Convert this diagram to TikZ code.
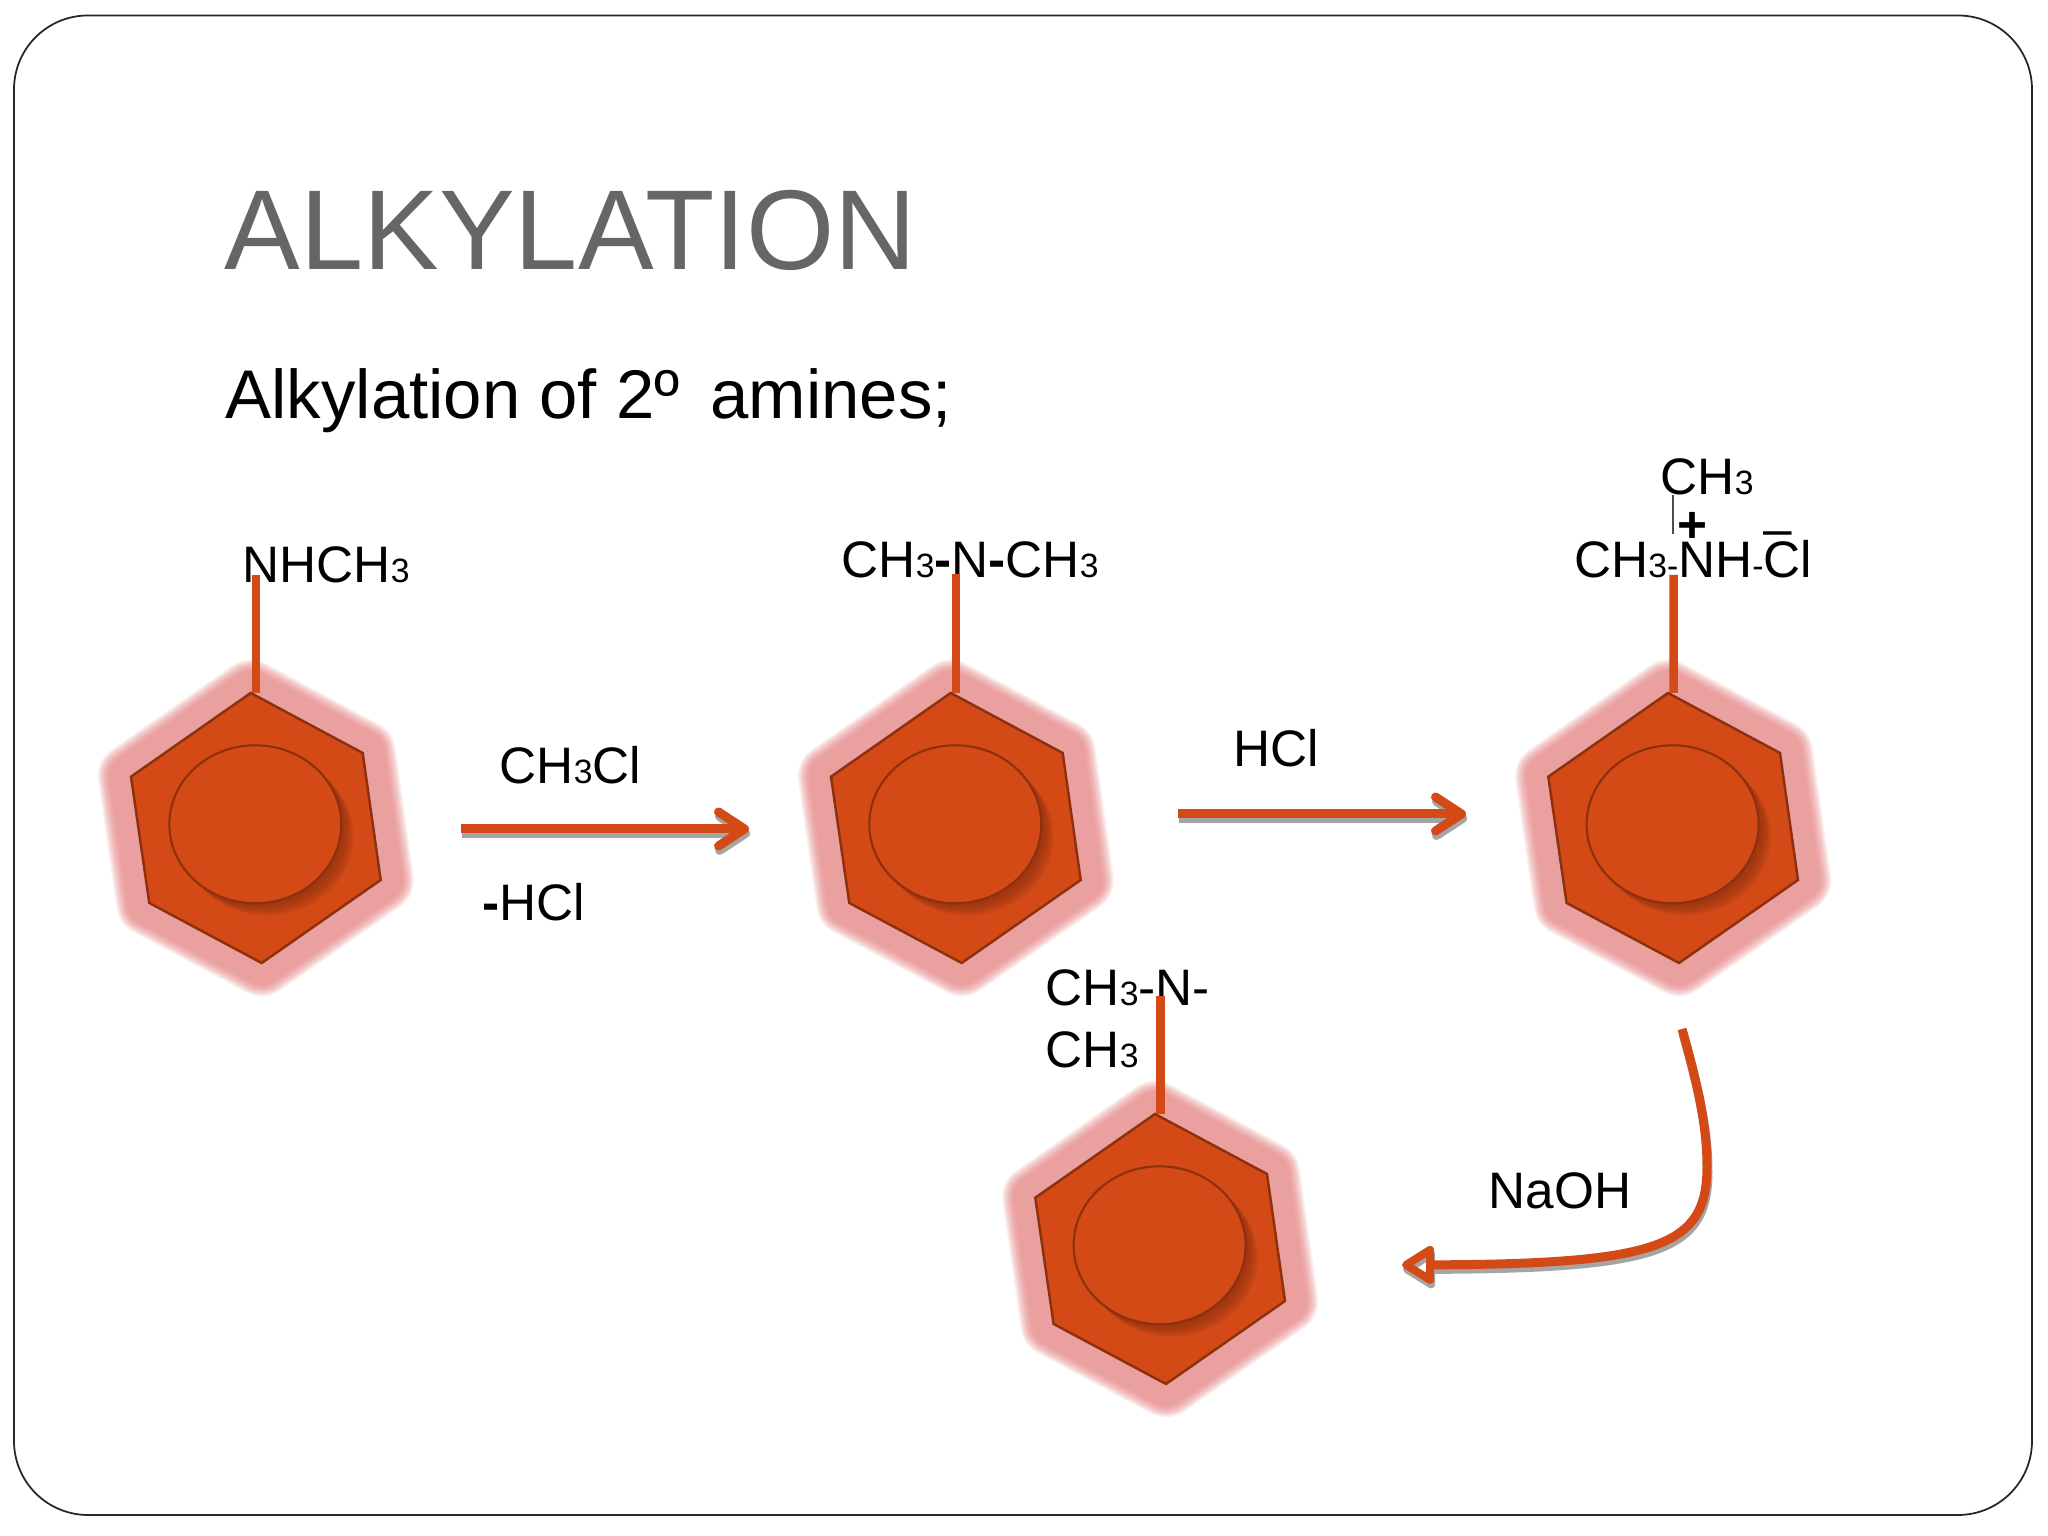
\documentclass[tikz,border=0pt]{standalone}
\usepackage{fontspec}
\setmainfont{Liberation Sans}
\usetikzlibrary{arrows.meta}
\definecolor{ringred}{RGB}{211,74,23}
\definecolor{ringedge}{RGB}{140,48,14}
\definecolor{glowred}{RGB}{226,120,120}
\definecolor{titlegray}{RGB}{102,102,102}
\definecolor{shadegray}{RGB}{165,165,165}
\newcommand{\lowtxt}[1]{{\fontsize{9.6}{9.6}\selectfont #1}}
\tikzset{
  chem/.style={anchor=base west, inner sep=0pt, font=\fontsize{14.6}{14.6}\selectfont},
  bond/.style={draw=ringred, line width=.085cm},
  rxn/.style={draw=ringred, line width=.09cm,
    preaction={draw=shadegray, line width=.09cm, transform canvas={xshift=.01cm, yshift=-.045cm}}},
  benzene/.pic={
    \path (0,0) coordinate (-top);
    \path (.055,0) coordinate (-bond);
    \foreach \w in {.66,.63,.60,.57,.54,.51,.48,.45}
      \draw[glowred, opacity=.14, line width=\w cm, line join=round]
        (0,0) -- (1.12,-.60) -- (1.30,-1.87) -- (.11,-2.70) -- (-1.014,-2.10) -- (-1.197,-.837) -- cycle;
    \draw[ringedge, fill=ringred, line width=.7pt]
      (0,0) -- (1.12,-.60) -- (1.30,-1.87) -- (.11,-2.70) -- (-1.014,-2.10) -- (-1.197,-.837) -- cycle;
    \foreach \s in {.02,.04,.06,.08,.10,.12}
      \fill[ringedge, opacity=.18] (.046+\s,-1.313-\s) ellipse [x radius=.86, y radius=.79];
    \draw[ringedge, fill=ringred, line width=.6pt] (.046,-1.313) ellipse [x radius=.86, y radius=.79];
  }
}
\begin{document}
\begin{tikzpicture}
\useasboundingbox (0,0) rectangle (20.48,15.36);
\draw[black!85, line width=.5pt, rounded corners=.74cm] (.14,.21) rectangle (20.32,15.205);

\node[anchor=base west, inner sep=0pt, text=titlegray, font=\fontsize{32.3}{32.3}\selectfont] (title) at (2.24,12.66) {ALKYLATION};
\node[anchor=base west, inner sep=0pt, font=\fontsize{19.6}{19.6}\selectfont] (subtitle) at (2.25,11.17) {Alkylation of 2º\hspace{.45em}amines;};

% rings
\pic (ringa) at (2.507,8.43) {benzene};
\pic (ringb) at (9.507,8.43) {benzene};
\pic (ringc) at (16.68,8.43) {benzene};
\pic (ringd) at (11.55,4.22) {benzene};

% labels
\node[chem] (nhme) at (2.42,9.53) {NHCH\lowtxt{3}};
\node[chem] (nme) at (8.41,9.58) {CH\lowtxt{3}\textbf{-}N\textbf{-}CH\lowtxt{3}};
\node[chem] (metop) at (16.60,10.41) {CH\lowtxt{3}};
\node[chem] (salt) at (15.735,9.58) {CH\lowtxt{3-}NH\lowtxt{-}Cl};
\node[inner sep=0pt, font=\fontsize{14.6}{14.6}\bfseries\selectfont] (plus) at (16.92,10.085) {+};
\node[inner sep=0pt, font=\fontsize{14.6}{14.6}\selectfont] (minus) at (17.78,9.97) {–};
\node[chem] (reagenta) at (4.99,7.52) {CH\lowtxt{3}Cl};
\node[chem] (lossa) at (4.82,6.15) {\textbf{-}HCl};
\node[chem] (reagentb) at (12.33,7.69) {HCl};
\node[chem] (produp) at (10.45,5.30) {CH\lowtxt{3}-N-};
\node[chem] (proddown) at (10.45,4.68) {CH\lowtxt{3}};
\node[chem] (reagentc) at (14.88,3.27) {NaOH};

% bonds
\coordinate (tipa) at (2.562,9.61);
\coordinate (tipb) at (9.562,9.62);
\coordinate (tipc) at (16.735,9.61);
\coordinate (tipd) at (11.605,5.40);
\draw[bond] (ringa-bond) -- (tipa);
\draw[bond] (ringb-bond) -- (tipb);
\draw[bond] (ringc-bond) -- (tipc);
\draw[bond] (ringd-bond) -- (tipd);
\coordinate (mtop) at (16.73,10.41);
\coordinate (mlow) at (16.73,10.02);
\draw[black!70, line width=.5pt] (mtop) -- (mlow);

% arrows
\coordinate (aa) at (4.61,7.07);
\coordinate (ab) at (7.49,7.07);
\coordinate (ba) at (11.78,7.22);
\coordinate (bb) at (14.66,7.22);
\coordinate (ca) at (16.82,5.07);
\coordinate (cb) at (17.07,3.69);
\coordinate (cc) at (14.02,2.71);
\draw[rxn, -{Straight Barb[length=.26cm, width=.34cm, round]}] (aa) -- (ab);
\draw[rxn, -{Straight Barb[length=.26cm, width=.34cm, round]}] (ba) -- (bb);
\draw[rxn, -{Triangle[open, length=.36cm, width=.42cm, line width=.08cm, round]}] (ca) .. controls (16.98,4.5) and (17.07,4.1) .. (cb) .. controls (17.07,2.9) and (16.6,2.72) .. (cc);
\end{tikzpicture}
\end{document}
